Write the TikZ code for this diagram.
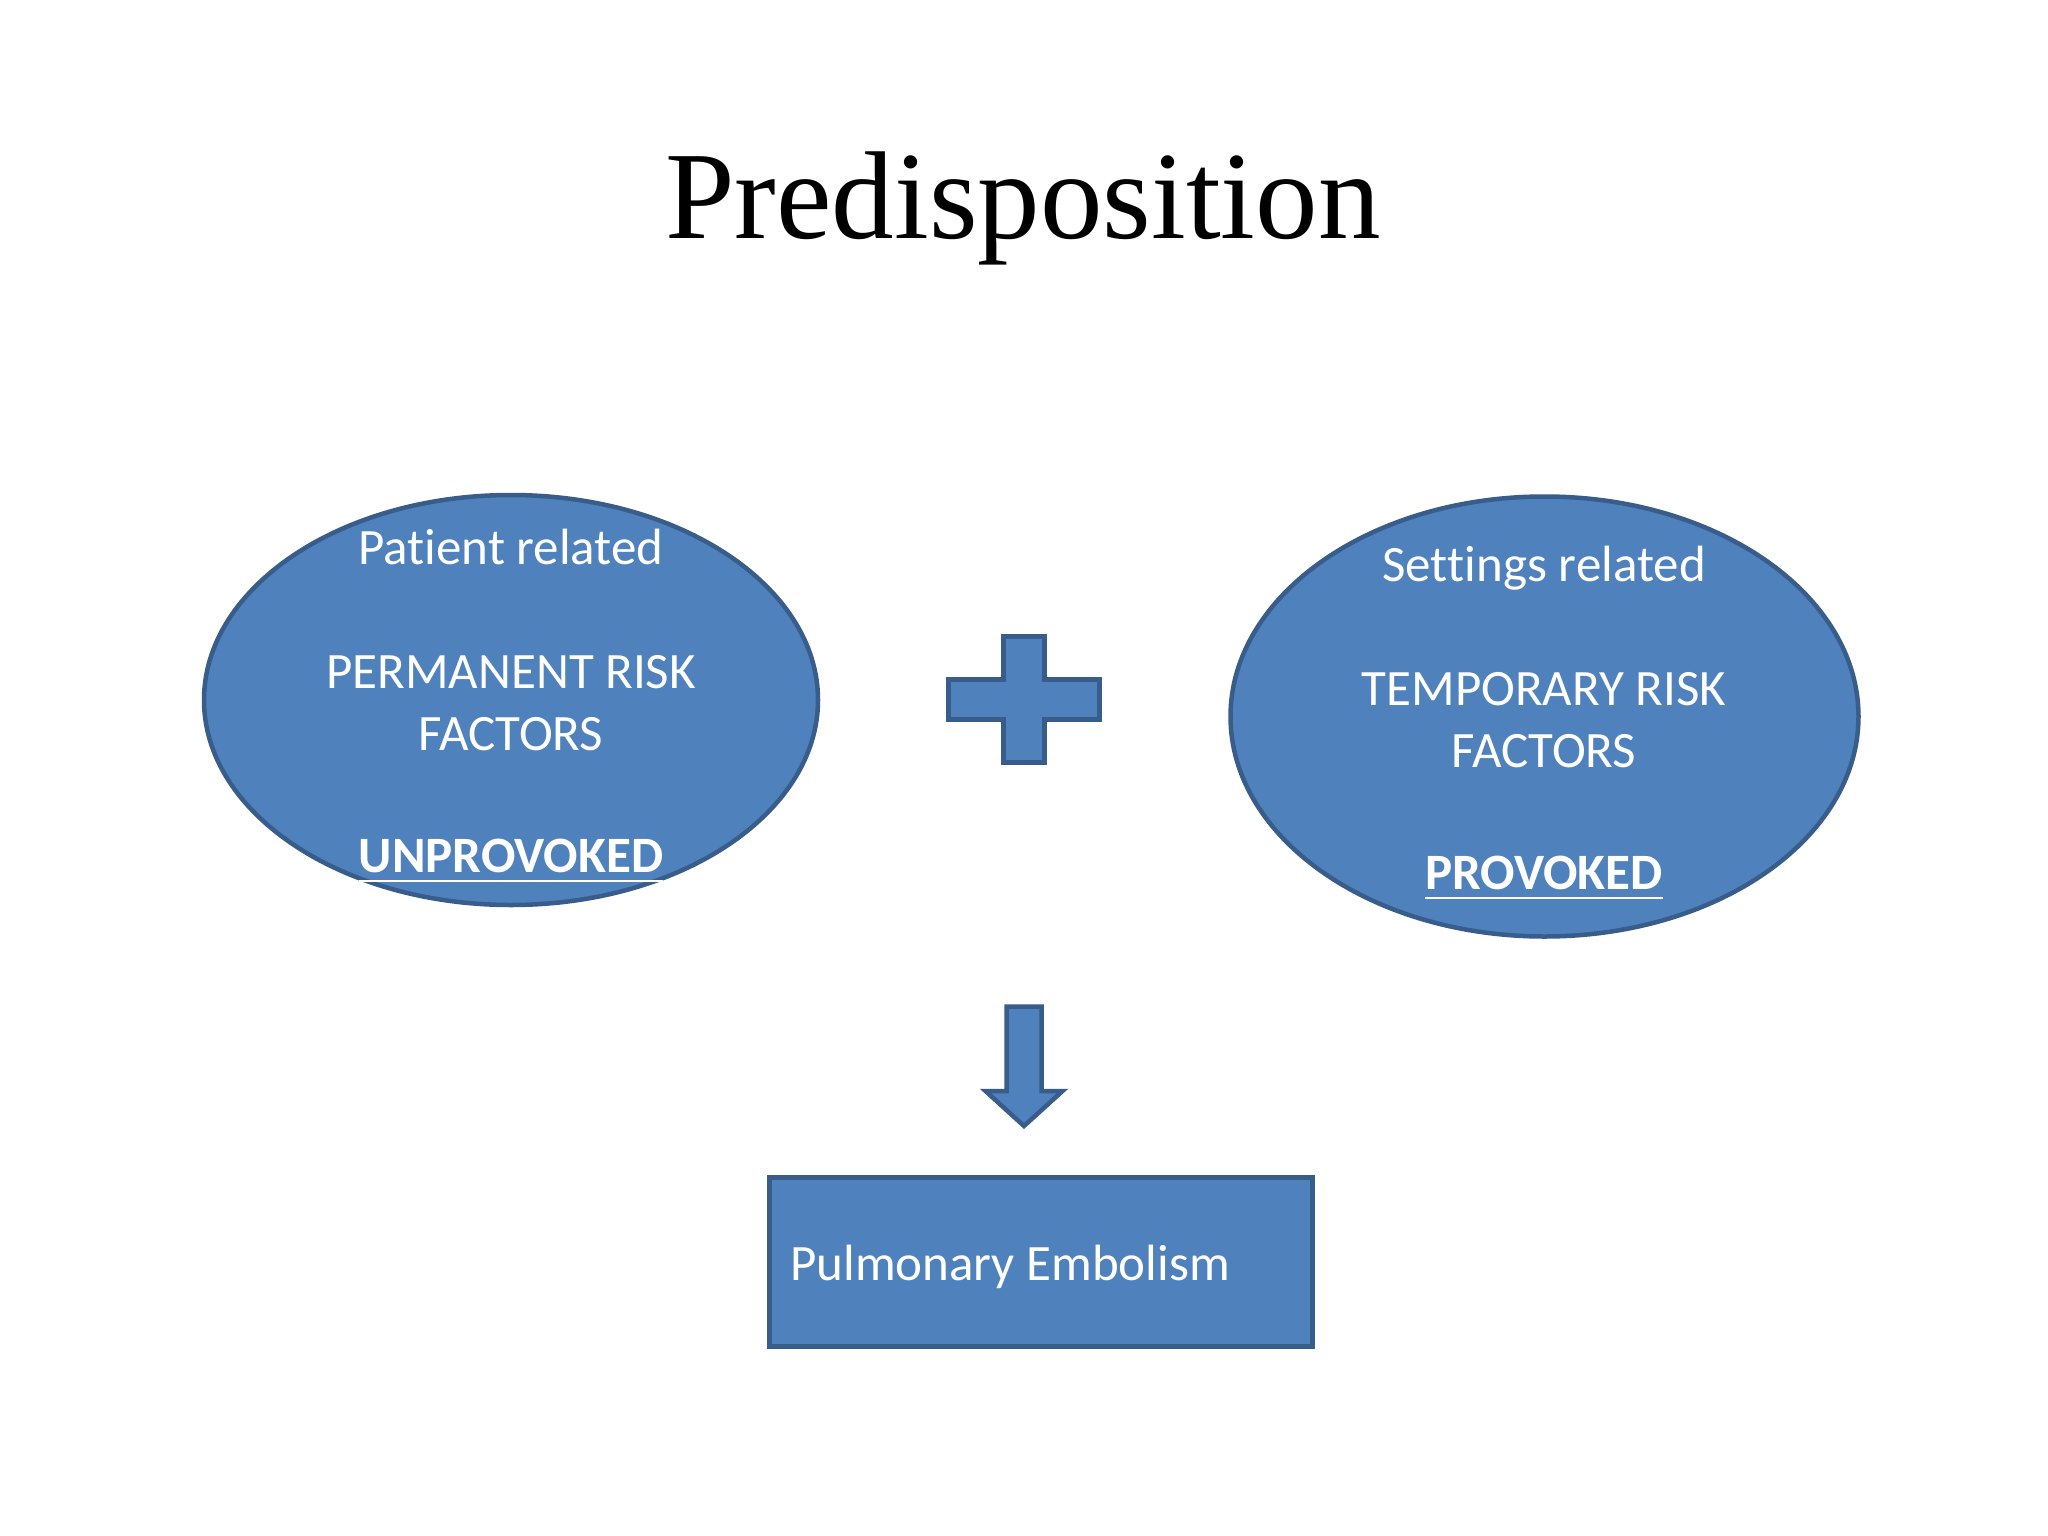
\documentclass[tikz,border=0pt]{standalone}
\usepackage{fontspec}
\setmainfont{Carlito}[Ligatures=CommonOff,RawFeature={-calt}]
\newfontfamily\titlefont{Liberation Serif}
\usetikzlibrary{shapes.geometric}
\definecolor{boxfill}{HTML}{4F81BD}
\definecolor{boxline}{HTML}{385D8A}
\tikzset{
  blob/.style={ellipse, fill=boxfill, draw=boxline, line width=4.5pt, inner sep=0pt},
  shapebox/.style={fill=boxfill, draw=boxline, line width=4.5pt, line join=miter},
  wtext/.style={text=white, font=\fontsize{51}{61}\selectfont, inner sep=0pt, anchor=base},
  btext/.style={wtext, font=\fontsize{51}{61}\selectfont\bfseries},
}
\begin{document}
\begin{tikzpicture}[x=1pt,y=-1pt]
\useasboundingbox (0,0) rectangle (2048,1536);
\fill[white] (0,0) rectangle (2048,1536);
\node[anchor=base, inner sep=0pt, font=\titlefont\fontsize{125}{150}\selectfont] (title) at (1023,238) {Predisposition};
% left ellipse
\node[blob, minimum width=614pt, minimum height=410pt] (left) at (511,700) {};
\node[wtext] (l1) at (511,564) {Pat\kern0pt ient related};
\node[wtext] (l2) at (511,688) {PERMANENT RISK};
\node[wtext] (l3) at (511,750) {FACTORS};
\node[btext] (l4) at (511,872) {UNPROVOKED};
\draw[white, line width=2.5pt] ([yshift=-9pt]l4.base west) -- ([yshift=-9pt]l4.base east);
% right ellipse
\node[blob, minimum width=628pt, minimum height=440pt] (right) at (1544.5,716.5) {};
\node[wtext] (r1) at (1544,581) {Set\kern0pt t\kern0pt ings related};
\node[wtext] (r2) at (1544,705) {TEMPORARY RISK};
\node[wtext] (r3) at (1544,767) {FACTORS};
\node[btext] (r4) at (1544,889) {PROVOKED};
\draw[white, line width=2.5pt] ([yshift=-9pt]r4.base west) -- ([yshift=-9pt]r4.base east);
% plus sign
\draw[shapebox] (1003.5,636.5) -- (1044.5,636.5) -- (1044.5,679.5) -- (1099.5,679.5) -- (1099.5,719.5)
  -- (1044.5,719.5) -- (1044.5,762.5) -- (1003.5,762.5) -- (1003.5,719.5) -- (948.5,719.5)
  -- (948.5,679.5) -- (1003.5,679.5) -- cycle;
% down arrow
\draw[shapebox] (1006.5,1006.5) -- (1041.5,1006.5) -- (1041.5,1091) -- (1062.5,1091) -- (1024,1126)
  -- (985.5,1091) -- (1006.5,1091) -- cycle;
% bottom box
\node[shapebox, rectangle, minimum width=543pt, minimum height=169pt, inner sep=0pt] (pe) at (1041,1262) {};
\node[wtext, anchor=base west] (pet) at (790,1280) {Pulmonary Embolism};
\end{tikzpicture}
\end{document}
